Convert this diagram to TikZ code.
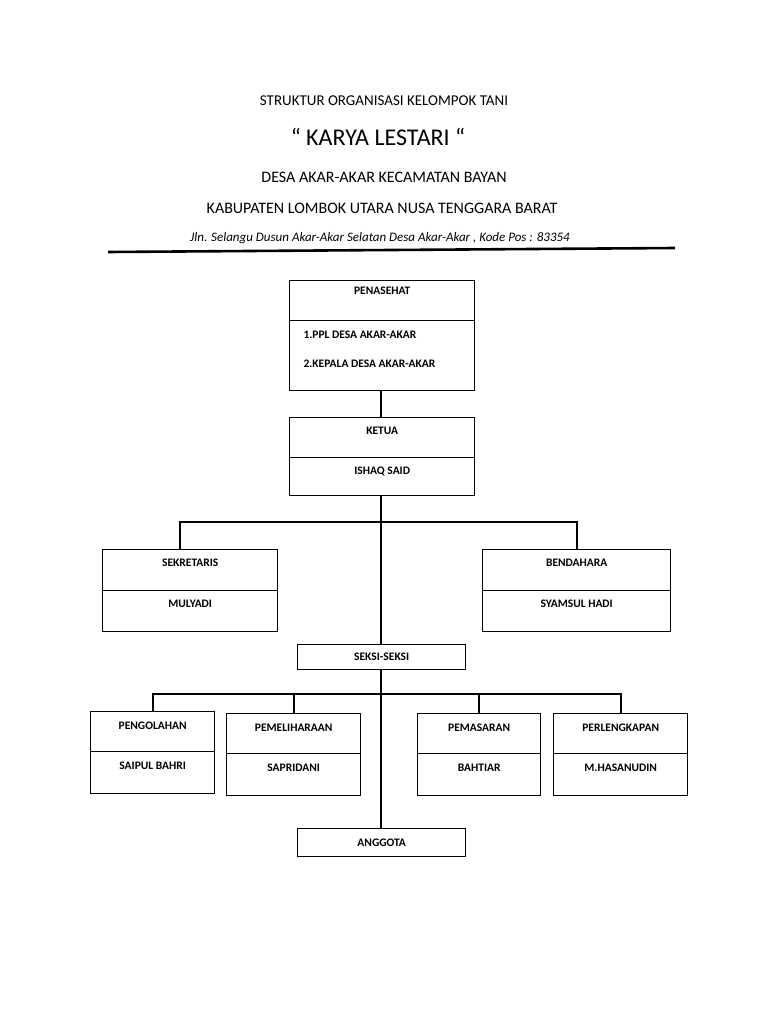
\documentclass[tikz,border=0pt]{standalone}
\usepackage{fontspec}
\setmainfont{Carlito}
\begin{document}
\begin{tikzpicture}[x=1pt,y=-1pt,
  cell/.style={draw,line width=1.4pt,minimum width=#1,inner sep=0pt,anchor=north west,font=\bfseries\fontsize{11.5}{13}\selectfont},
  lk/.style={line width=1.8pt},
  ttl/.style={font=\fontsize{15}{17}\selectfont}]
\useasboundingbox (0,0) rectangle (768,1024);
\node[ttl] (t1) at (384,101) {STRUKTUR ORGANISASI KELOMPOK TANI};
\node[font=\fontsize{24}{28}\selectfont] (t2) at (378,137) {“ KARYA LESTARI “};
\node[font=\fontsize{16}{18}\selectfont] (t3) at (384,177) {DESA AKAR-AKAR KECAMATAN BAYAN};
\node[font=\fontsize{16}{18}\selectfont] (t4) at (382,208) {KABUPATEN LOMBOK UTARA NUSA TENGGARA BARAT};
\node[font=\itshape\fontsize{13}{15}\selectfont] (t5) at (380,238) {Jln. Selangu Dusun Akar-Akar Selatan Desa Akar-Akar , Kode Pos : 83354};
\coordinate (hl) at (108,252); \coordinate (hr) at (675,248);
\draw[line width=2.6pt] (hl) -- (hr);

% Penasehat
\node[cell=185pt,minimum height=40pt,text depth=20pt] (pt) at (289,280) {PENASEHAT};
\node[cell=185pt,minimum height=70pt] (pb) at (289,320) {};
\node[anchor=west,font=\bfseries\fontsize{11.5}{13}\selectfont] (p1) at (300,335) {1.PPL DESA AKAR-AKAR};
\node[anchor=west,font=\bfseries\fontsize{11.5}{13}\selectfont] (p2) at (300,364) {2.KEPALA DESA AKAR-AKAR};
% Ketua
\node[cell=185pt,minimum height=40pt,text depth=14pt] (kt) at (289,417) {KETUA};
\node[cell=185pt,minimum height=38pt,text depth=12pt] (kb) at (289,457) {ISHAQ SAID};
% Sekretaris / Bendahara
\node[cell=175pt,minimum height=41pt,text depth=14pt] (st) at (102,549) {SEKRETARIS};
\node[cell=175pt,minimum height=41pt,text depth=14pt] (sb) at (102,590) {MULYADI};
\node[cell=188pt,minimum height=41pt,text depth=14pt] (bt) at (482,549) {BENDAHARA};
\node[cell=188pt,minimum height=41pt,text depth=14pt] (bb) at (482,590) {SYAMSUL HADI};
% Seksi
\node[cell=168pt,minimum height=25pt] (sk) at (297,644) {SEKSI-SEKSI};
% Row
\node[cell=124pt,minimum height=40pt,text depth=12pt] (at) at (90,711) {PENGOLAHAN};
\node[cell=124pt,minimum height=42pt,text depth=14pt] (ab) at (90,751) {SAIPUL BAHRI};
\node[cell=134pt,minimum height=40pt,text depth=12pt] (ct) at (226,713) {PEMELIHARAAN};
\node[cell=134pt,minimum height=42pt,text depth=14pt] (cb) at (226,753) {SAPRIDANI};
\node[cell=123pt,minimum height=40pt,text depth=12pt] (dt) at (417,713) {PEMASARAN};
\node[cell=123pt,minimum height=42pt,text depth=14pt] (db) at (417,753) {BAHTIAR};
\node[cell=134pt,minimum height=40pt,text depth=12pt] (et) at (553,713) {PERLENGKAPAN};
\node[cell=134pt,minimum height=42pt,text depth=14pt] (eb) at (553,753) {M.HASANUDIN};
% Anggota
\node[cell=168pt,minimum height=28pt] (ag) at (297,828) {ANGGOTA};

% connectors
\coordinate (j1) at (381,522); \coordinate (j2) at (381,694);
\coordinate (sl) at (180,549); \coordinate (sr) at (577,549);
\draw[lk] (pb.south -| 381,0) -- (kt.north -| 381,0);
\draw[lk] (kb.south -| 381,0) -- (sk.north -| 381,0);
\draw[lk] (sk.south -| 381,0) -- (ag.north -| 381,0);
\draw[lk] (sl) |- (j1) -| (sr);
\draw[lk] (at.north) |- (j2) -| (et.north);
\draw[lk] (ct.north) -- (ct.north |- j2);
\draw[lk] (dt.north) -- (dt.north |- j2);
\end{tikzpicture}
\end{document}
